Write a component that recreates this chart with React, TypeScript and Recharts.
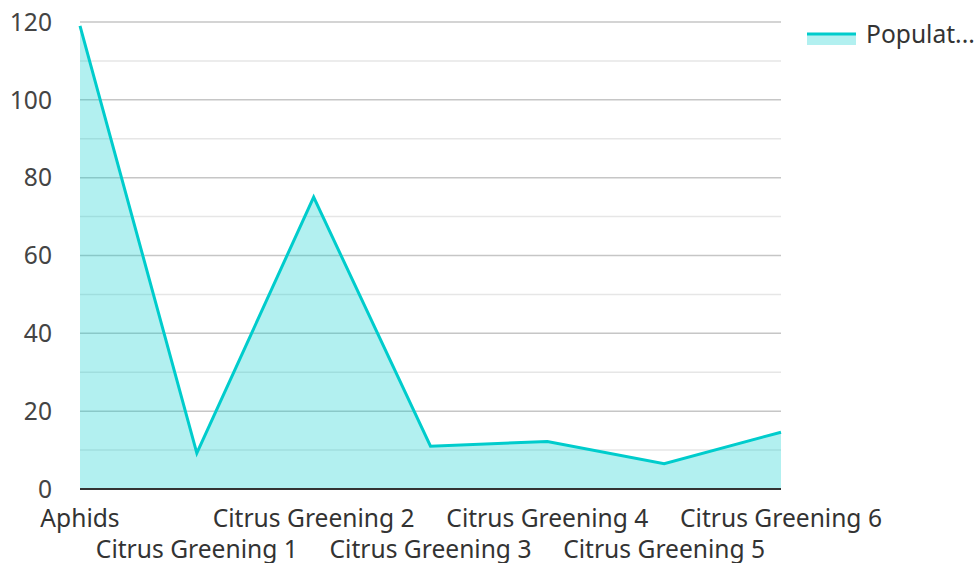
import { AreaChart, Area, XAxis, YAxis, CartesianGrid, Legend } from 'recharts'

const categories = ['Aphids', 'Citrus Greening 1', 'Citrus Greening 2', 'Citrus Greening 3', 'Citrus Greening 4', 'Citrus Greening 5', 'Citrus Greening 6']
const population = [119, 9.2, 75, 11, 12.2, 6.5, 14.6]
const yTicks = [0, 20, 40, 60, 80, 100, 120]
const minorTicks = [10, 30, 50, 70, 90, 110]

const data = categories.map((name, i) => ({ name, value: population[i] }))

const TEAL = '#00cccc'
const FONT = '"Noto Sans", "Open Sans", sans-serif'

const XTick = ({ x, y, payload, index }: any) => (
  <text x={x} y={y + (index % 2 ? 52 : 21)} dy="0.35em" textAnchor="middle"
    fill="#333" fontSize={24.6} fontFamily={FONT}>
    {payload.value}
  </text>
)

const LegendBox = () => (
  <svg width={170} height={30} style={{ overflow: 'visible' }}>
    <rect x={1} y={15} width={49} height={10} fill={TEAL} fillOpacity={0.3} />
    <line x1={1} x2={50} y1={14} y2={14} stroke={TEAL} strokeWidth={3} />
    <text x={60} y={14} dy="0.35em" fill="#333" fontSize={24.6} fontFamily={FONT}>Populat...</text>
  </svg>
)

export default function App() {
  return (
    <div style={{ position: 'absolute', left: 0, top: 0, width: 976, height: 563, background: '#fff' }}>
      <AreaChart width={976} height={563} data={data}
        margin={{ top: 22, right: 195, left: 20, bottom: 0 }}>
        <CartesianGrid vertical={false} horizontalValues={minorTicks} stroke="#e6e6e6" strokeWidth={1.5} />
        <CartesianGrid vertical={false} horizontalValues={yTicks} stroke="#c6c6c6" strokeWidth={1.5} />
        <XAxis dataKey="name" interval={0} height={74} tick={<XTick />} tickLine={false}
          axisLine={{ stroke: '#333', strokeWidth: 2 }} />
        <YAxis domain={[0, 120]} ticks={yTicks} width={60} axisLine={false} tickLine={false}
          tickSize={0} tickMargin={28}
          tick={{ fontSize: 24.6, fill: '#444', fontFamily: FONT }} />
        <Legend layout="vertical" align="center" verticalAlign="middle"
          wrapperStyle={{ top: 20, left: 806, width: 170 }} content={<LegendBox />} />
        <Area type="linear" dataKey="value" name="Population" stroke={TEAL} strokeWidth={3}
          fill={TEAL} fillOpacity={0.3} dot={false} activeDot={false} isAnimationActive={false} />
      </AreaChart>
    </div>
  )
}
